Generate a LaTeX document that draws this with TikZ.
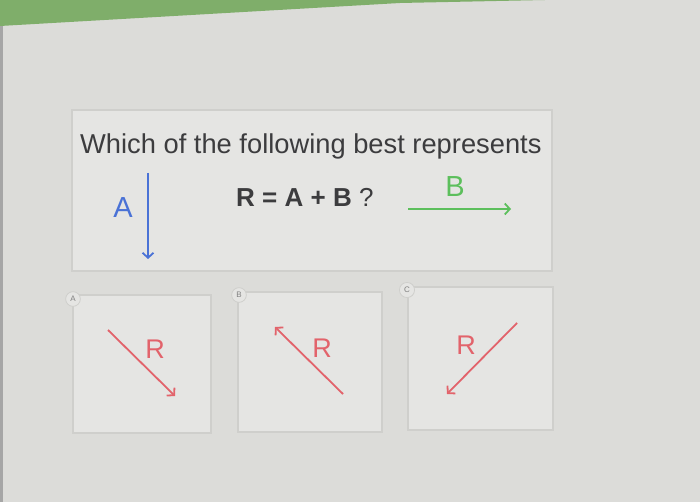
\documentclass[tikz,border=0pt]{standalone}
\usepackage{fontspec}
\setmainfont{Liberation Sans}
\usetikzlibrary{arrows.meta}
\definecolor{wall}{HTML}{DCDCD9}
\definecolor{card}{HTML}{E5E5E3}
\definecolor{edge}{HTML}{CFCFCC}
\definecolor{band}{HTML}{7FAE6A}
\definecolor{ink}{HTML}{3C3C3E}
\definecolor{vecblue}{HTML}{4A72D6}
\definecolor{vecgreen}{HTML}{5CBF5C}
\definecolor{vecred}{HTML}{E2636B}
\begin{document}
\begin{tikzpicture}[x=1pt,y=-1pt,
    panel/.style={fill=card,draw=edge,line width=1.2pt},
    tag/.style={circle,draw=edge,fill=card,line width=0.8pt,inner sep=2.5pt,font=\fontsize{8}{9}\selectfont,text=gray},
    vec/.style={-{Straight Barb[length=5pt,width=11pt]},line width=1.8pt},
    lbl/.style={inner sep=0pt,anchor=base}]
    \useasboundingbox (0,0) rectangle (700,502);
    \fill[wall] (0,0) rectangle (700,502);
    \fill[band] (0,0)--(545,0)--(400,3)--(0,26)--cycle;
    \fill[gray!70] (0,26) rectangle (3,502);
    % question card
    \filldraw[panel] (72,110) rectangle (552,271);
    \node[lbl,text=ink,font=\fontsize{27.3}{30}\selectfont,anchor=base west] (ask) at (80,154) {Which of the following best represents};
    \node[lbl,text=vecblue,font=\fontsize{29}{32}\selectfont] (labA) at (123,218) {A};
    \coordinate (aTop) at (148,173);
    \coordinate (aBot) at (148,259);
    \draw[vec,vecblue] (aTop)--(aBot);
    \node[lbl,text=ink,font=\fontsize{26}{28}\selectfont,anchor=base west] (sum) at (236,207) {\bfseries R = A + B\mdseries\ ?};
    \node[lbl,text=vecgreen,font=\fontsize{29}{32}\selectfont] (labB) at (455,197) {B};
    \coordinate (bLeft) at (408,209);
    \coordinate (bRight) at (511,209);
    \draw[vec,vecgreen] (bLeft)--(bRight);
    % answer boxes
    \filldraw[panel] (73,295) rectangle (211,433);
    \filldraw[panel] (238,292) rectangle (382,432);
    \filldraw[panel] (408,287) rectangle (553,430);
    \node[tag] (tagA) at (73,299) {A};
    \node[tag] (tagB) at (239,295) {B};
    \node[tag] (tagC) at (407,290) {C};
    % option A
    \coordinate (a1) at (108,330);
    \coordinate (a2) at (175,396);
    \draw[vec,vecred] (a1)--(a2);
    \node[lbl,text=vecred,font=\fontsize{27}{29}\selectfont] (rA) at (155,358) {R};
    % option B
    \coordinate (b1) at (343,394);
    \coordinate (b2) at (275,327);
    \draw[vec,vecred] (b1)--(b2);
    \node[lbl,text=vecred,font=\fontsize{27}{29}\selectfont] (rB) at (322,357) {R};
    % option C
    \coordinate (c1) at (517,323);
    \coordinate (c2) at (447,394);
    \draw[vec,vecred] (c1)--(c2);
    \node[lbl,text=vecred,font=\fontsize{27}{29}\selectfont] (rC) at (466,354) {R};
\end{tikzpicture}
\end{document}
